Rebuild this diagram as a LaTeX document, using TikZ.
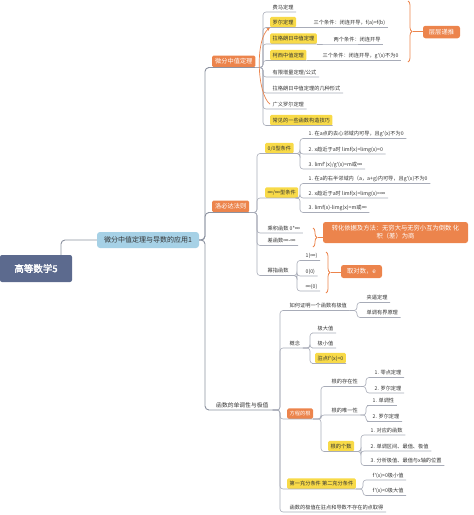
\documentclass[tikz,border=0pt]{standalone}
\usepackage{fontspec}
\setmainfont{Noto Sans CJK SC}
\newfontfamily\cjkf{Noto Sans CJK SC}
\newfontfamily\rootfont{Noto Sans CJK SC}[AutoFakeBold=2]
\usetikzlibrary{decorations.pathreplacing,arrows.meta,calc}
\definecolor{org}{RGB}{236,132,76}
\definecolor{yel}{RGB}{248,218,72}
\definecolor{lb}{RGB}{166,209,230}
\definecolor{rootc}{RGB}{92,106,142}
\definecolor{lc}{RGB}{168,172,184}
\definecolor{mc}{RGB}{140,146,160}
\definecolor{tc}{RGB}{51,51,51}
\newcommand\fz[2]{\cjkf\fontsize{#1}{#2}\selectfont}
\newcommand\mmbranch[3]{\draw[ln] (#1.south east) -- (#1.south east -| #2) |- (#3.south west) -- (#3.south east);}
\newcommand\mmmain[1]{\draw[mln] (l1.east) -- (l1.east -| tm) |- (#1.south west) -- (#1.south east);}
\begin{document}
\begin{tikzpicture}[x=1pt,y=-1pt,
  txt/.style={anchor=south west, font=\fz{5.2}{6}, text=tc, inner xsep=2.5pt, inner ysep=2pt, text height=4.6pt, text depth=0.8pt},
  yb/.style={txt, fill=yel, rounded corners=1.2pt, inner ysep=2.5pt},
  ob/.style={txt, fill=org, text=white, rounded corners=1.5pt, inner ysep=2.5pt},
  mob/.style={ob, font=\fz{6.2}{7}, inner xsep=3pt, inner ysep=2.8pt, text height=5.3pt, text depth=0.9pt},
  mtxt/.style={txt, font=\fz{5.8}{7}, inner xsep=4pt},
  sumbox/.style={fill=org, text=white, rounded corners=2.5pt, font=\fz{6.3}{8}, inner sep=2pt, align=center},
  ln/.style={draw=lc, line width=0.6pt, rounded corners=3pt},
  mln/.style={draw=mc, line width=0.9pt, rounded corners=4pt},
  oln/.style={draw=org, line width=0.8pt},
  obr/.style={draw=org, line width=0.8pt, decorate, decoration={brace, amplitude=4pt}},
  oarr/.style={draw=org, line width=0.7pt, -{Stealth[length=3.5pt,width=3pt]}}
]
\useasboundingbox (0,0) rectangle (474,515);

% trunk coordinates
\coordinate (tm) at (205,0);
\coordinate (t1) at (263,0);
\coordinate (t2) at (257,0);
\coordinate (t3) at (280,0);
\coordinate (tcd) at (300,0);
\coordinate (tc5) at (297,0);
\coordinate (tg1) at (357,0);
\coordinate (tg2) at (310,0);
\coordinate (tg3) at (321,0);
\coordinate (tj) at (366,0);
\coordinate (tj3) at (361,0);
\coordinate (tg4) at (363,0);

% root and level 1
\node[fill=rootc, text=white, rounded corners=2pt, minimum width=72pt, minimum height=27pt, inner sep=0pt, font=\rootfont\bfseries\fontsize{9.5}{11}\selectfont] (root) at (36,268.5) {高等数学5};
\node[fill=lb, text=tc, rounded corners=3pt, minimum width=102pt, minimum height=16pt, inner sep=0pt, font=\fz{7}{8}] (l1) at (148,240) {微分中值定理与导数的应用1};
\draw[mln] ([xshift=25pt]root.north) |- (l1.west);

% main branches
\node[mob] (m1) at (212,67.5) {微分中值定理};
\node[mob] (m2) at (212,212.5) {洛必达法则};
\node[mtxt] (m3) at (212,410) {函数的单调性与极值};
\mmmain{m1}
\mmmain{m2}
\mmmain{m3}

% ---- branch 1
\node[txt] (a1) at (270,12) {费马定理};
\node[yb] (a2) at (270,27.5) {罗尔定理};
\node[yb] (a3) at (270,44) {拉格朗日中值定理};
\node[yb] (a4) at (270,60.5) {柯西中值定理};
\node[txt] (a5) at (270,77) {有限增量定理/公式};
\node[txt] (a6) at (270,93) {拉格朗日中值定理的几种形式};
\node[txt] (a7) at (270,109) {广义罗尔定理};
\node[yb] (a8) at (270,125.5) {常见的一些函数构造技巧};
\foreach \c in {a1,a2,a3,a4,a5,a6,a7,a8} {\mmbranch{m1}{t1}{\c}}

\node[txt] (b2) at (311,27.5) {三个条件：闭连开导，f(a)=f(b)};
\node[txt] (b3) at (331,44) {两个条件：闭连开导};
\node[txt] (b4) at (320,60.5) {三个条件：闭连开导，g'(x)不为0};
\draw[ln] (a2.south east) -- (b2.south west) -- (b2.south east);
\draw[ln] (a3.south east) -- (b3.south west) -- (b3.south east);
\draw[ln] (a4.south east) -- (b4.south west) -- (b4.south east);

\draw[oarr] (a7.west) .. controls ($(a7.west)+(-13,-10)$) and ($(a2.south west)+(-15,12)$) .. (a2.south west);

\draw[obr] (408,1) -- (408,62);
\coordinate (k1) at (413,31.5);
\node[sumbox, minimum width=37pt, minimum height=12.5pt] (s1) at (441.5,32) {层层递推};
\draw[oln] (k1) -- (k1 -| s1.west);

% ---- branch 2
\node[yb] (c1) at (265,153.5) {0/0型条件};
\node[yb] (c2) at (265,198) {∞/∞型条件};
\node[txt] (c3) at (265,233) {乘积函数 0*∞};
\node[txt] (c4) at (265,245.5) {差函数∞-∞};
\node[txt] (c5) at (265,275.5) {幂指函数};
\foreach \c in {c1,c2,c3,c4,c5} {\mmbranch{m2}{t2}{\c}}

\node[txt] (d1) at (306,138.5) {1. 在a点的去心邻域内可导，且g'(x)不为0};
\node[txt] (d2) at (306,154) {2. x趋近于a时 limf(x)=limg(x)=0};
\node[txt] (d3) at (306,169) {3. limf'(x)/g'(x)=m或∞};
\foreach \c in {d1,d2,d3} {\mmbranch{c1}{tcd}{\c}}

\node[txt] (e1) at (306,183.5) {1. 在a的右半邻域内（a，a+g)内可导，且g'(x)不为0};
\node[txt] (e2) at (306,198) {2. x趋近于a时 limf(x)=limg(x)=∞};
\node[txt] (e3) at (306,212.5) {3. limf(x)-limg(x)=m或∞};
\foreach \c in {e1,e2,e3} {\mmbranch{c2}{tcd}{\c}}

\draw[obr] (313,228) -- (313,247);
\coordinate (k2) at (317.5,237.5);
\node[sumbox, minimum width=145pt, minimum height=21pt] (s2) at (395.5,232.5) {转化依据及方法：无穷大与无穷小互为倒数 化\\积（差）为商};
\draw[oln] (k2) -- (k2 -| s2.west);

\node[txt] (f1) at (303,260.5) {1(∞)};
\node[txt] (f2) at (303,276) {0(0)};
\node[txt] (f3) at (303,291) {∞(0)};
\foreach \c in {f1,f2,f3} {\mmbranch{c5}{tc5}{\c}}

\draw[obr] (326,252) -- (326,293);
\coordinate (k3) at (330.5,272.5);
\node[sumbox, minimum width=41pt, minimum height=13pt] (s3) at (361.5,271.5) {取对数，e};
\draw[oln] (k3) -- (k3 -| s3.west);

% ---- branch 3
\node[txt] (g1) at (287,310.5) {如何证明一个函数有极值};
\node[txt] (g2) at (287,348) {概念};
\node[ob] (g3) at (287,419) {方程的根};
\node[yb] (g4) at (287,489) {第一充分条件 第二充分条件};
\node[txt] (g5) at (287,512) {函数的极值在驻点和导数不存在的点取得};
\foreach \c in {g1,g2,g3,g4,g5} {\mmbranch{m3}{t3}{\c}}

\node[txt] (h1) at (364,302.5) {夹逼定理};
\node[txt] (h2) at (364,317.5) {单调有界原理};
\foreach \c in {h1,h2} {\mmbranch{g1}{tg1}{\c}}

\node[txt] (i1) at (315,333) {极大值};
\node[txt] (i2) at (315,348) {极小值};
\node[yb] (i3) at (315,363.5) {驻点f'(x)=0};
\foreach \c in {i1,i2,i3} {\mmbranch{g2}{tg2}{\c}}

\node[txt] (j1) at (329,386.5) {根的存在性};
\node[txt] (j2) at (329,415) {根的唯一性};
\node[yb] (j3) at (328,451.5) {根的个数};
\foreach \c in {j1,j2,j3} {\mmbranch{g3}{tg3}{\c}}

\node[txt] (k1n) at (372,377.5) {1. 零点定理};
\node[txt] (k2n) at (372,393) {2. 罗尔定理};
\foreach \c in {k1n,k2n} {\mmbranch{j1}{tj}{\c}}

\node[txt] (l1n) at (370,405.5) {1. 单调性};
\node[txt] (l2n) at (370,421.5) {2. 罗尔定理};
\foreach \c in {l1n,l2n} {\mmbranch{j2}{tj}{\c}}

\node[txt] (n1) at (368,435) {1. 对应的函数};
\node[txt] (n2) at (368,451) {2. 单调区间、最值、极值};
\node[txt] (n3) at (368,465.5) {3. 分析极值、最值与x轴的位置};
\foreach \c in {n1,n2,n3} {\mmbranch{j3}{tj3}{\c}}

\node[txt] (o1) at (370,480) {f'(x)>0极小值};
\node[txt] (o2) at (370,495.5) {f'(x)<0极大值};
\foreach \c in {o1,o2} {\mmbranch{g4}{tg4}{\c}}
\end{tikzpicture}
\end{document}
